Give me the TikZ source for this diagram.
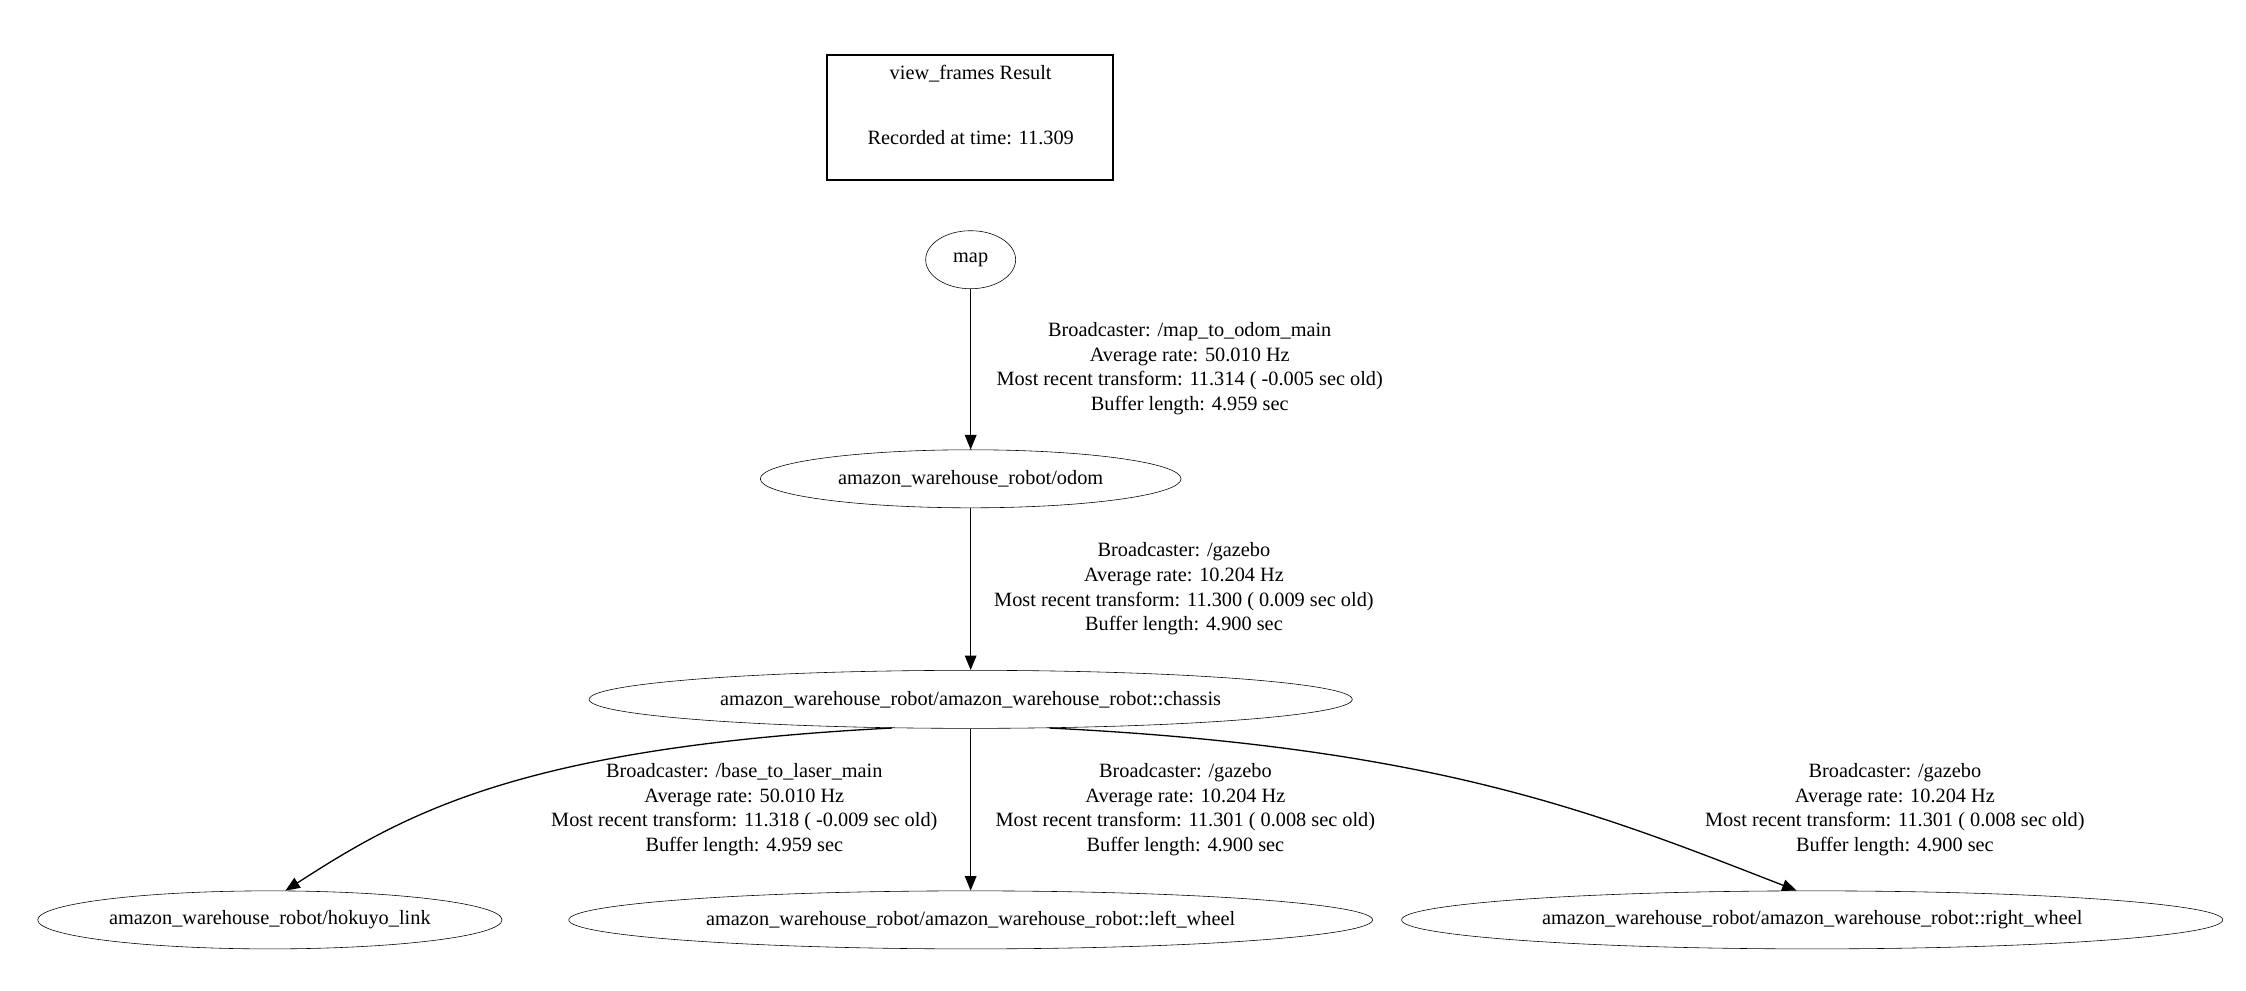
\documentclass[tikz,border=0pt]{standalone}
\usepackage{fontspec}
\setmainfont{Liberation Serif}
\usetikzlibrary{shapes.geometric,arrows.meta}
\tikzstyle{frame} = [draw,ellipse,inner sep=0pt,minimum height=40pt]
\tikzstyle{fleche} = [-{Triangle[length=10pt,width=8pt]},line width=0.9pt]
\tikzstyle{info} = [align=center,inner sep=0pt,font=\fontsize{14}{17}\selectfont]
\begin{document}
\begin{tikzpicture}[x=1pt,y=-1pt,font=\fontsize{14}{17}\selectfont]
\useasboundingbox (0,0) rectangle (1548,683);
%% Title
	\draw[line width=1.6pt] (570,38) rectangle (767,124);
	\node (title) at (669,51) {view\_frames Result};
	\node (rec) at (669,95) {Recorded at time: 11.309};

%% Frames
	\node[frame,minimum width=62pt] (map) at (669,179) {map};
	\node[frame,minimum width=290pt] (odom) at (669,330) {amazon\_warehouse\_robot/odom};
	\node[frame,minimum width=526pt] (chassis) at (669,482) {amazon\_warehouse\_robot/amazon\_warehouse\_robot::chassis};
	\node[frame,minimum width=320pt] (hokuyo) at (186,634) {amazon\_warehouse\_robot/hokuyo\_link};
	\node[frame,minimum width=554pt] (left) at (669,634) {amazon\_warehouse\_robot/amazon\_warehouse\_robot::left\_wheel};
	\node[frame,minimum width=566pt] (right) at (1249,634) {amazon\_warehouse\_robot/amazon\_warehouse\_robot::right\_wheel};

%% Edges
	\draw[fleche] (map) -- (odom);
	\draw[fleche] (odom) -- (chassis);
	\draw[fleche] (chassis) -- (left);
	\draw[fleche] (chassis.200) .. controls (360,515) and (280,560) .. (hokuyo.62);
	\draw[fleche] (chassis.-20) .. controls (990,515) and (1100,560) .. (right.118);

%% Labels
	\node[info] (l1) at (820,254) {Broadcaster: /map\_to\_odom\_main\\Average rate: 50.010 Hz\\Most recent transform: 11.314 ( -0.005 sec old)\\Buffer length: 4.959 sec};
	\node[info] (l2) at (816,406) {Broadcaster: /gazebo\\Average rate: 10.204 Hz\\Most recent transform: 11.300 ( 0.009 sec old)\\Buffer length: 4.900 sec};
	\node[info] (l3) at (513,558) {Broadcaster: /base\_to\_laser\_main\\Average rate: 50.010 Hz\\Most recent transform: 11.318 ( -0.009 sec old)\\Buffer length: 4.959 sec};
	\node[info] (l4) at (817,558) {Broadcaster: /gazebo\\Average rate: 10.204 Hz\\Most recent transform: 11.301 ( 0.008 sec old)\\Buffer length: 4.900 sec};
	\node[info] (l5) at (1306,558) {Broadcaster: /gazebo\\Average rate: 10.204 Hz\\Most recent transform: 11.301 ( 0.008 sec old)\\Buffer length: 4.900 sec};
\end{tikzpicture}
\end{document}
